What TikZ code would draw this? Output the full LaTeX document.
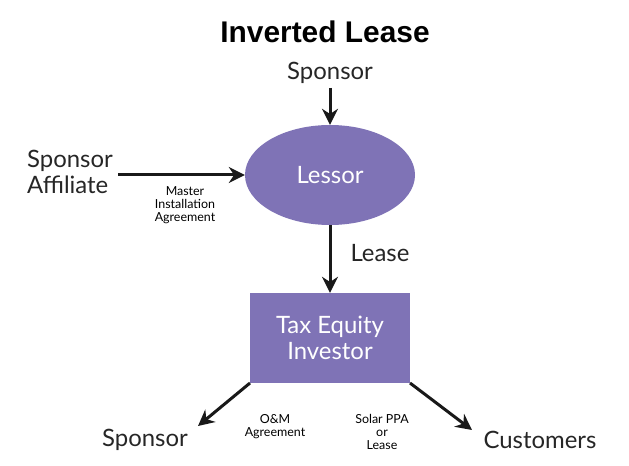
\documentclass[tikz,border=0pt]{standalone}
\usepackage{fontspec}
\setmainfont{Lato}
\newfontfamily\titlefont{Liberation Sans}
\usetikzlibrary{shapes.geometric,arrows.meta}
\definecolor{purp}{HTML}{7F73B6}
\begin{document}
\begin{tikzpicture}[x=1bp,y=-1bp,
  lab/.style={font=\fontsize{24}{26}\selectfont,text=black!85,align=center},
  sm/.style={font=\fontsize{12.5}{13}\selectfont,align=center},
  arr/.style={line width=3bp,-{Stealth[length=16bp,width=16bp]},black!90}]
\useasboundingbox (0,0) rectangle (629,466);
\node[font=\titlefont\bfseries\fontsize{30}{32}\selectfont] (t) at (325,32) {Inverted Lease};
\node[lab] (sp1) at (330,73) {Sponsor};
\node[ellipse,fill=purp,minimum width=170bp,minimum height=100bp,lab,text=white] (les) at (330,175) {Lessor};
\node[lab,align=left] (aff) at (70,172) {Sponsor\\Affiliate};
\node[rectangle,fill=purp,minimum width=160bp,minimum height=90bp,lab,text=white] (tei) at (330,338) {Tax Equity\\Investor};
\node[lab] (sp2) at (145,440) {Sponsor};
\node[lab] (cu) at (540,440) {Customers};
\coordinate (a1) at (118,175);
\coordinate (d1) at (250,383);
\coordinate (d2) at (410,383);
\coordinate (e1) at (198,426);
\coordinate (e2) at (472,430);
\draw[arr] (330,88) -- (les.north);
\draw[arr] (a1) -- (les.west);
\draw[arr] (les.south) -- (tei.north);
\draw[arr] (d1) -- (e1);
\draw[arr] (d2) -- (e2);
\node[sm] (mia) at (185,205) {Master\\Installation\\Agreement};
\node[lab] (ls) at (380,253) {Lease};
\node[sm] (om) at (275,427) {O\&M\\Agreement};
\node[sm] (pp) at (382,432) {Solar PPA\\or\\Lease};
\end{tikzpicture}
\end{document}
